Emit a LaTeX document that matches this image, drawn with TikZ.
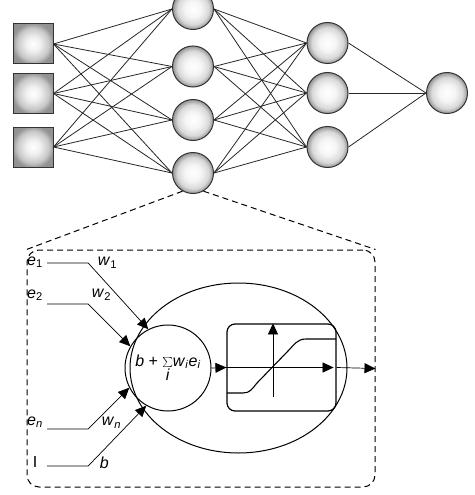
\documentclass[tikz,border=0pt]{standalone}
\usepackage{fontspec}
\setmainfont{Liberation Sans}
\usepackage{tikz}
\usetikzlibrary{shapes.geometric, arrows.meta}
\pgfdeclareradialshading{ballshade}{\pgfpoint{0bp}{0bp}}{color(0bp)=(white); color(10bp)=(white!96!black); color(19bp)=(black!15); color(25bp)=(black!42); color(50bp)=(black!42)}
\pgfdeclareradialshading{boxshade}{\pgfpoint{0bp}{0bp}}{color(0bp)=(white); color(9bp)=(white!94!black); color(20bp)=(black!22); color(26bp)=(black!42); color(50bp)=(black!48)}
\tikzstyle{inputbox} = [rectangle, minimum size=40pt, draw=black!80, line width=1pt, shading=boxshade, shade]
\tikzstyle{neuron} = [circle, minimum size=41pt, draw=black!80, line width=1pt, shading=ballshade, shade]
\tikzstyle{link} = [line width=0.8pt, black!85]
\tikzstyle{inlabel} = [inner sep=0pt, minimum width=24pt]
\tikzstyle{arrow} = [line width=0.7pt, -{Triangle[length=11pt,width=10pt]}]
\tikzstyle{zoomline} = [line width=1pt, dash pattern=on 6pt off 4pt]

\begin{document}
\begin{tikzpicture}[x=1pt,y=-1pt,font=\fontsize{16}{19}\selectfont]
	\useasboundingbox (0,0) rectangle (474,495);

	\node (in1) [inputbox] at (33,44) {};
	\node (in2) [inputbox] at (33,93.5) {};
	\node (in3) [inputbox] at (33,147) {};
	\node (h1) [neuron] at (193,9) {};
	\node (h2) [neuron] at (193,66.5) {};
	\node (h3) [neuron] at (193,120) {};
	\node (h4) [neuron] at (193,173) {};
	\node (o1) [neuron] at (327.5,43) {};
	\node (o2) [neuron] at (327.5,93) {};
	\node (o3) [neuron] at (327.5,147) {};
	\node (out) [neuron] at (447,93) {};

	\foreach \i in {1,2,3}
		\foreach \j in {1,...,4}
			\draw [link] (in\i.east) -- (h\j.west);
	\foreach \i in {1,...,4}
		\foreach \j in {1,2,3}
			\draw [link] (h\i.east) -- (o\j.west);
	\foreach \i in {1,2,3}
		\draw [link] (o\i.east) -- (out.west);

	% zoomed neuron
	\node (zoombox) [zoomline, draw, rounded corners=12pt, minimum width=348pt, minimum height=237pt] at (201,368.5) {};
	\draw [zoomline] (h4.240) -- (zoombox.north west);
	\draw [zoomline] (h4.300) -- (zoombox.north east);

	\node (cell) [ellipse, draw, line width=1pt, minimum width=217pt, minimum height=170pt] at (238.5,368) {};
	\node (sum) [circle, draw, line width=1pt, minimum size=86pt, inner sep=0pt] at (168,368) {\textit{b} + $\sum\limits_{\textit{i}}$\textit{w}\textsubscript{\textit{i}}\textit{e}\textsubscript{\textit{i}}};
	\node (act) [rectangle, draw, rounded corners=8pt, line width=1.2pt, minimum width=109pt, minimum height=87pt] at (281.5,367.5) {};

	\coordinate (yaxis) at (273,397);
	\draw [arrow] (yaxis) -- (yaxis |- act.north);
	\draw [arrow] (sum.east) -- (act.west);
	\draw [arrow] (act.west) -- ([xshift=-3pt]act.east);
	\draw [arrow] (act.east) -- (zoombox.east);
	\draw [line width=1.1pt] (227,393) -- (243,393) .. controls (250,393) and (252,389) .. (257,383) -- (288,351) .. controls (294,345) and (297,339) .. (306,339) -- (336,339);

	\node (e1) [inlabel] at (35,262) {\textit{e}\textsubscript{1}};
	\node (e2) [inlabel] at (35,295) {\textit{e}\textsubscript{2}};
	\node (en) [inlabel] at (35,422) {\textit{e}\textsubscript{\textit{n}}};
	\node (bias) [inlabel] at (35,462) {I};

	\draw [arrow] ([yshift=-1pt]e1.east) -- ++(41,0) node[anchor=west, xshift=6pt] {\textit{w}\textsubscript{1}} -- (sum.117);
	\draw [arrow] ([yshift=-9pt]e2.east) -- ++(41,0) node[anchor=south west] {\textit{w}\textsubscript{2}} -- (sum.150);
	\draw [arrow] ([yshift=-7pt]en.east) -- ++(41,0) node[anchor=west, xshift=10pt, yshift=6pt] {\textit{w}\textsubscript{\textit{n}}} -- (sum.207);
	\draw [arrow] ([yshift=-4pt]bias.east) -- ++(41,0) node[anchor=west, xshift=8pt, yshift=3pt] {\textit{b}} -- (sum.240);
\end{tikzpicture}
\end{document}
